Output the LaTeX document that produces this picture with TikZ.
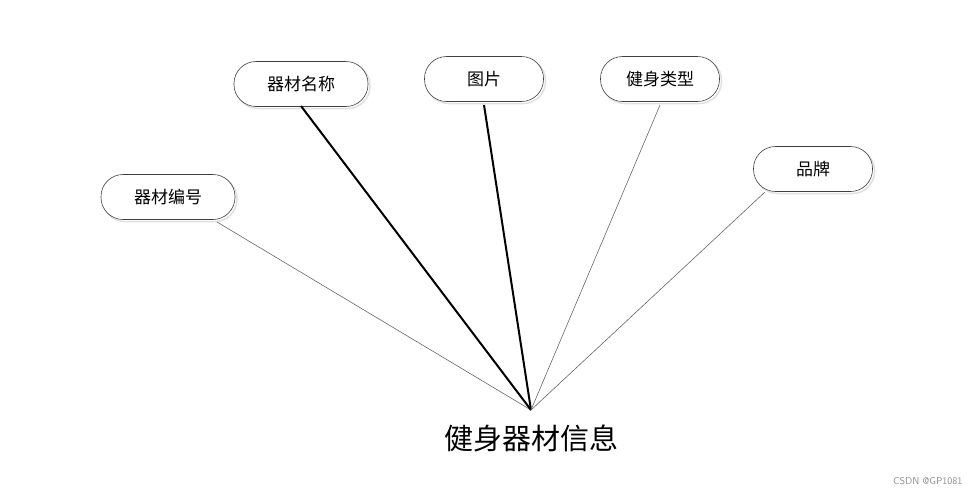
\documentclass[tikz,border=0pt]{standalone}
\usepackage{fontspec}
\newfontfamily\cjk{Noto Sans CJK SC}
\begin{document}
\begin{tikzpicture}[x=1pt,y=-1pt,
  attr/.style={draw=black!75,line width=0.6pt,rounded corners=22pt,fill=white,
    minimum width=#1,minimum height=45pt,font=\cjk\fontsize{17}{20}\selectfont,inner sep=0pt,
    preaction={draw=black!12,line width=1.5pt,transform canvas={shift={(2pt,-2pt)}}}},
  attr/.default=119pt,
  ent/.style={draw=black!75,double=white,double distance=1.2pt,line width=0.5pt,
    minimum width=212pt,minimum height=54pt,font=\cjk\fontsize{29}{34}\selectfont,inner sep=0pt},
  thin/.style={draw=black!60,line width=0.6pt},
  thick/.style={draw=black,line width=2pt}]
\useasboundingbox (0,0) rectangle (980,496);
\node[attr=134pt] (bh) at (168,197) {器材编号};
\node[attr=134pt] (mc) at (301,84) {器材名称};
\node[attr] (tp) at (484,79) {图片};
\node[attr] (lx) at (660,79) {健身类型};
\node[attr] (pp) at (813,169) {品牌};
\node[ent] (e) at (531,438) {健身器材信息};
\coordinate (t) at (531,410);
\draw[thin] (217,222) -- (t);
\draw[thick] (301,106) -- (t);
\draw[thick] (484,105) -- (t);
\draw[thin] (660,105) -- (t);
\draw[thin] (765,192) -- (t);
\node[font=\sffamily\fontsize{10}{12}\selectfont,text=black!45,anchor=east] (wm) at (966,481) {CSDN @GP1081};
\end{tikzpicture}
\end{document}
